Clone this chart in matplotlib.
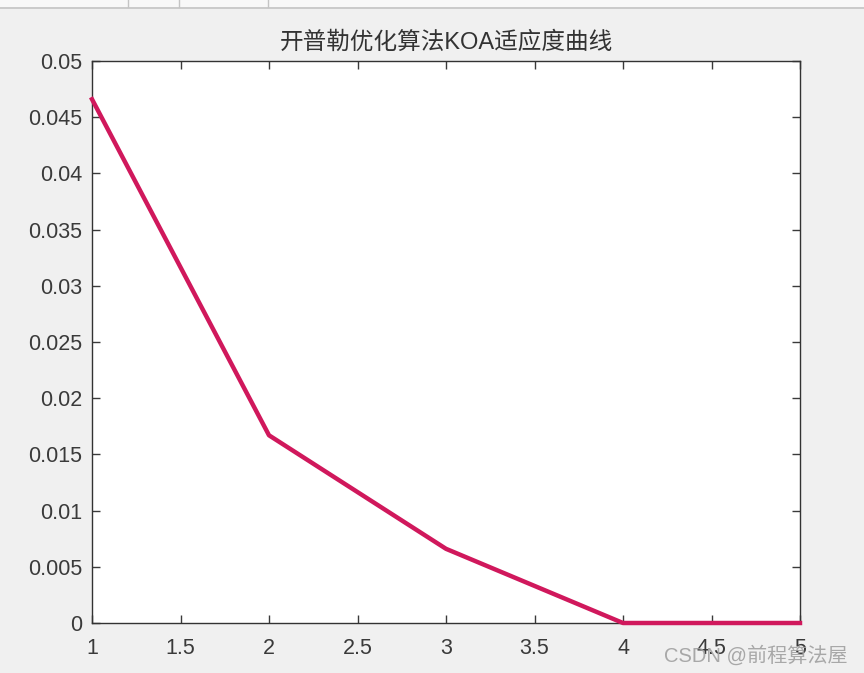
import matplotlib.pyplot as plt
from matplotlib.lines import Line2D
from matplotlib.patches import Rectangle

plt.rcParams['font.family'] = ['Liberation Sans', 'Noto Sans CJK SC']

# data
iters = [1, 2, 3, 4, 5]
fitness = [0.0466, 0.0167, 0.0066, 0.0, 0.0]
xticks = [1, 1.5, 2, 2.5, 3, 3.5, 4, 4.5, 5]
yticks = [0, 0.005, 0.01, 0.015, 0.02, 0.025, 0.03, 0.035, 0.04, 0.045, 0.05]

fig = plt.figure(figsize=(8.64, 6.73), dpi=100, facecolor='#f0f0f0')
ax = fig.add_axes([92/864, 1 - 623/673, (800-92)/864, (623-61)/673])
ax.set_facecolor('white')

ax.plot(iters, fitness, color='#d0185c', lw=3.2, clip_on=False, zorder=5)

ax.set_xlim(1, 5)
ax.set_ylim(0, 0.05)
ax.set_xticks(xticks)
ax.set_xticklabels(['1', '1.5', '2', '2.5', '3', '3.5', '4', '4.5', '5'])
ax.set_yticks(yticks)
ax.set_yticklabels(['0', '0.005', '0.01', '0.015', '0.02', '0.025', '0.03',
                    '0.035', '0.04', '0.045', '0.05'])
ax.tick_params(direction='in', top=True, right=True, length=6, width=1,
               labelsize=15.5, colors='#3a3a3a')
ax.tick_params(axis='y', pad=7)
ax.tick_params(axis='x', pad=11)
for s in ax.spines.values():
    s.set_color('#333333')
    s.set_linewidth(1)

ax.set_title('开普勒优化算法KOA适应度曲线', fontsize=17, color='#333333', pad=9)

# top strip of the window
fig.add_artist(Rectangle((0, 1 - 7/673), 1, 7/673, transform=fig.transFigure,
                         facecolor='#f8f8f8', edgecolor='none'))
fig.add_artist(Line2D([0, 1], [1 - 7.5/673, 1 - 7.5/673], color='#c4c4c4', lw=1.2))
for xp in [128, 179, 268]:
    fig.add_artist(Line2D([xp/864, xp/864], [1, 1 - 7/673], color='#c4c4c4', lw=1))

fig.text(848/864, 1 - 655/673, 'CSDN @前程算法屋', fontsize=14.5, color='#a0a0a0',
         ha='right', va='center', alpha=0.9, zorder=10)

fig.savefig('out.png', dpi=100, facecolor=fig.get_facecolor())
